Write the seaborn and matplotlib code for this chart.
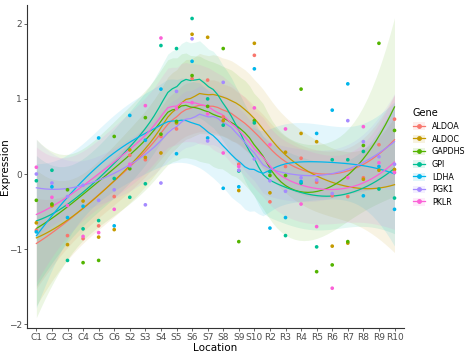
import numpy as np
import pandas as pd
import matplotlib
matplotlib.use("Agg")
import matplotlib.pyplot as plt
import seaborn as sns
from matplotlib.lines import Line2D
from matplotlib.patches import Patch

locations = ["C1", "C2", "C3", "C4", "C5", "C6", "S2", "S3", "S4", "S5", "S6", "S7",
             "S8", "S9", "S10", "R2", "R3", "R4", "R5", "R6", "R7", "R8", "R9", "R10"]
genes = ["ALDOA", "ALDOC", "GAPDHS", "GPI", "LDHA", "PGK1", "PKLR"]

aldoa = [-0.75, -0.42, -0.82, -0.86, -0.69, -0.30, 0.25, 0.19, 0.50, 0.60, 1.27, 1.25,
         0.76, 0.13, 1.58, -0.37, 0.10, 0.21, -0.11, -0.29, -0.30, -0.05, 0.39, 0.73]
aldoc = [-0.65, -0.42, -0.94, -0.36, -0.84, -0.74, 0.32, 0.22, 0.28, 0.68, 1.86, 1.82,
         0.71, -0.22, 1.74, -0.25, 0.29, 0.54, 0.43, -0.96, -0.92, -0.07, 0.05, 0.06]
gapdhs = [-0.35, -0.40, -0.21, -1.18, -1.15, 0.50, 0.07, 0.75, 0.53, 0.70, 1.31, 0.90,
          1.67, -0.90, 0.71, -0.02, -0.02, 1.13, -1.30, -1.21, -0.90, 0.38, 1.74, 0.58]
gpi = [-0.09, 0.05, -1.15, -0.73, -0.62, -0.06, -0.31, -0.13, 1.71, 1.67, 2.07, 1.00,
       0.65, 0.04, 0.68, 0.03, -0.82, -0.12, -0.97, 0.19, 0.19, 0.30, -0.20, -0.32]
ldha = [-0.77, -0.17, -0.58, -0.43, 0.48, -0.69, 0.78, 0.45, 1.13, 0.27, 1.50, 0.48,
        -0.19, -0.17, 1.40, -0.72, -0.58, -0.10, 0.54, 0.85, 1.20, -0.29, 0.10, -0.47]
pgk1 = [0.00, -0.12, -0.30, -0.15, -0.35, -0.21, 0.11, -0.41, -0.12, 1.10, 1.80, 0.44,
        1.22, 0.05, 0.20, -0.09, -0.23, -0.05, -0.08, -0.26, 0.71, 0.43, 0.23, 0.13]
pklr = [0.09, -0.31, -0.42, -0.83, -0.78, -0.47, 0.13, 0.91, 1.81, 0.87, 0.95, 0.80,
        0.28, 0.10, 0.88, 0.39, 0.60, -0.40, -0.70, -1.52, -0.05, 0.63, 0.15, 0.02]

colors = ["#F8766D", "#C49A00", "#53B400", "#00C094", "#00B6EB", "#A58AFF", "#FB61D7"]
series = [aldoa, aldoc, gapdhs, gpi, ldha, pgk1, pklr]
pal = dict(zip(genes, colors))

pos = np.arange(len(locations))
df = pd.DataFrame([(g, p, v) for g, vals in zip(genes, series) for p, v in zip(pos, vals)],
                  columns=["Gene", "pos", "Expression"])


def loess(x, y, xg, span=0.75):
    # local quadratic fit with tricube weights, like R's loess
    n = len(x)
    q = int(np.floor(n * span))

    def row(x0):
        d = np.abs(x - x0)
        h = np.sort(d)[q - 1] * 1.0001
        w = np.clip(1 - (d / h) ** 3, 0, None) ** 3
        X = np.column_stack([np.ones(n), x - x0, (x - x0) ** 2])
        XtW = X.T * w
        return np.linalg.solve(XtW @ X, XtW)[0]

    L = np.array([row(v) for v in x])
    Lg = np.array([row(v) for v in xg])
    res = y - L @ y
    M = (np.eye(n) - L).T @ (np.eye(n) - L)
    d1 = np.trace(M)
    sigma = np.sqrt(np.sum(res ** 2) / d1)
    fit = Lg @ y
    se = sigma * np.sqrt(np.sum(Lg ** 2, axis=1))
    return fit, se


grid = np.linspace(0, len(locations) - 1, 80)
smooth = []
for g, vals in zip(genes, series):
    fit, se = loess(pos.astype(float), np.array(vals), grid)
    for xv, f, s in zip(grid, fit, se):
        smooth.append((g, xv, f, f - 2.1 * s, f + 2.1 * s))
sm = pd.DataFrame(smooth, columns=["Gene", "pos", "fit", "lo", "hi"])

fig = plt.figure(figsize=(4.74, 3.55), dpi=100)
ax = fig.add_axes([0.057, 0.076, 0.795, 0.91])

for g in genes:
    s = sm[sm.Gene == g]
    ax.fill_between(s.pos, s.lo, s.hi, color=pal[g], alpha=0.11, linewidth=0)
sns.lineplot(data=sm, x="pos", y="fit", hue="Gene", palette=pal, linewidth=0.9,
             legend=False, ax=ax)
sns.scatterplot(data=df, x="pos", y="Expression", hue="Gene", palette=pal, s=7,
                linewidth=0, legend=False, ax=ax, zorder=3)

ax.set_xlim(-0.6, len(locations) - 0.4)
ax.set_ylim(-2.05, 2.25)
ax.set_xticks(pos)
ax.set_xticklabels(locations)
ax.set_yticks([-2, -1, 0, 1, 2])
ax.tick_params(labelsize=6.5, colors="#4d4d4d", length=2.5, width=0.6, pad=1.2)
ax.set_xlabel("Location", fontsize=7.5, labelpad=0.5)
ax.set_ylabel("Expression", fontsize=7.5)
ax.yaxis.set_label_coords(-0.045, 0.5)
for side in ["top", "right"]:
    ax.spines[side].set_visible(False)
for side in ["left", "bottom"]:
    ax.spines[side].set_color("#333333")
    ax.spines[side].set_linewidth(0.8)

handles = [(Patch(facecolor=pal[g], alpha=0.12, linewidth=0),
            Line2D([], [], color=pal[g], marker="o", markersize=2.5, linewidth=0.9))
           for g in genes]
fig.legend(handles, genes, title="Gene", loc="upper left", bbox_to_anchor=(0.855, 0.715),
           frameon=False, fontsize=5.8, title_fontsize=7, handlelength=1.6,
           handleheight=1.1, labelspacing=0.45, alignment="left")

fig.savefig("out.png", dpi=100)
